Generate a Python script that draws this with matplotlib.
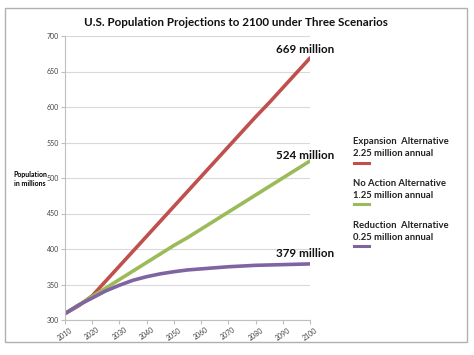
import matplotlib
matplotlib.use("Agg")
import matplotlib.pyplot as plt
from matplotlib.patches import Rectangle
from matplotlib.lines import Line2D

years = [2010, 2015, 2020, 2025, 2030, 2035, 2040, 2045, 2050, 2055, 2060,
         2065, 2070, 2075, 2080, 2085, 2090, 2095, 2100]
expansion = [309, 320, 334, 355, 376, 397, 418, 439, 460, 481, 502,
             523, 544, 565, 586, 606, 627, 648, 669]
no_action = [309, 321, 333, 345, 357, 369, 381, 393, 405, 416, 428,
             440, 452, 464, 476, 488, 500, 512, 524]
reduction = [309, 321, 331, 341, 349, 356, 361, 365, 368, 370.5, 372,
             373.5, 375, 376, 377, 377.5, 378, 378.5, 379]
end_labels = ["669 million", "524 million", "379 million"]
legend_titles = ["Expansion  Alternative", "No Action Alternative", "Reduction  Alternative"]
legend_subs = ["2.25 million annual", "1.25 million annual", "0.25 million annual"]
colors = ["#C0504D", "#9BBB59", "#8064A2"]
xticks = list(range(2010, 2101, 10))
yticks = list(range(300, 701, 50))

plt.rcParams['font.family'] = ['Lato', 'DejaVu Sans']

fig = plt.figure(figsize=(4.74, 3.55), dpi=100)
fig.patches.append(Rectangle((5/474, 1-342/355), 462/474, 334/355, transform=fig.transFigure,
                             fill=False, edgecolor="#b0b0b0", linewidth=1.0))
ax = fig.add_axes([65/474, 1-320/355, 245/474, 284/355])

series = [expansion, no_action, reduction]
for vals, c in zip(series, colors):
    ax.plot(years, vals, color=c, linewidth=2.6, solid_capstyle='round')

ax.set_xlim(2010, 2100)
ax.set_ylim(300, 700)
ax.set_xticks(xticks)
ax.set_yticks(yticks)
ax.set_xticklabels([str(x) for x in xticks], rotation=35, fontsize=5, color="#444444")
ax.set_yticklabels([str(y) for y in yticks], fontsize=5, color="#444444")
ax.grid(axis='y', color="#d9d9d9", linewidth=0.8)
ax.set_axisbelow(True)
for s in ['top', 'right']:
    ax.spines[s].set_visible(False)
for s in ['left', 'bottom']:
    ax.spines[s].set_color("#bfbfbf")
ax.tick_params(axis='both', length=3, color="#bfbfbf", pad=1.5)

fig.text(236/474, 1-22/355, "U.S. Population Projections to 2100 under Three Scenarios",
         ha='center', va='center', fontsize=8.4, fontweight='bold', color='#111111')
fig.text(30/474, 1-179/355, "Population\nin millions", ha='center', va='center',
         fontsize=5, fontweight='bold', linespacing=1.3)

# end labels (offsets in pixels above line end)
label_dy = [9, 5, 10]
for vals, lab, dy in zip(series, end_labels, label_dy):
    ax.annotate(lab, xy=(2100, vals[-1]), xytext=(-3.6, dy * 0.72), textcoords='offset points',
                ha='center', va='center', fontsize=8.4, fontweight='bold', color='#111111')

# legend-like annotations
title_ys = [142, 183, 225]
for ty, t, s, c in zip(title_ys, legend_titles, legend_subs, colors):
    fig.text(353/474, 1-ty/355, t, ha='left', va='center', fontsize=6.8, fontweight='bold', color='#222222')
    fig.text(353/474, 1-(ty+12)/355, s, ha='left', va='center', fontsize=6.8, fontweight='bold', color='#222222')
    fig.add_artist(Line2D([354/474, 369/474], [1-(ty+20.5)/355, 1-(ty+20.5)/355],
                          transform=fig.transFigure, color=c, linewidth=2.2))

fig.savefig("out.png", dpi=100)
